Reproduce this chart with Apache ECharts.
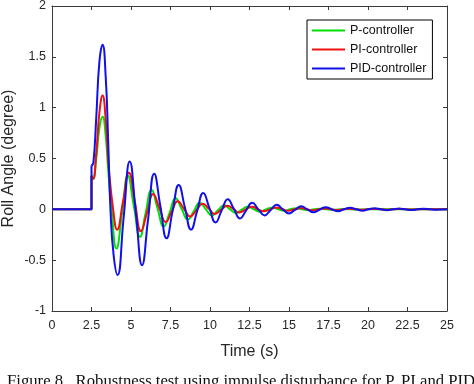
<!DOCTYPE html>
<html>
<head>
<meta charset="utf-8">
<script src="https://cdn.jsdelivr.net/npm/echarts@6/dist/echarts.min.js"></script>
<style>
html,body{margin:0;padding:0;background:#fff;}
#chart{width:474px;height:384px;}
</style>
</head>
<body>
<div id="chart"></div>
<script>
// Tick settings
var xTicks = [0, 2.5, 5, 7.5, 10, 12.5, 15, 17.5, 20, 22.5, 25];
var yTicks = [-1, -0.5, 0, 0.5, 1, 1.5, 2];
var seriesNames = ['P-controller', 'PI-controller', 'PID-controller'];

// P-controller (green)
var pTime = [0, 2.5, 2.5, 2.6, 2.8, 3.0, 3.2, 3.4, 3.55, 3.77, 4.08, 4.44, 4.8, 5.18, 5.57, 5.92, 6.3, 6.68, 7.07, 7.45, 7.82, 8.2, 8.6, 8.98, 9.35, 9.73, 10.12, 10.5, 10.9, 11.27, 11.65, 12.03, 12.4, 12.78, 13.17, 13.55, 13.95, 14.32, 14.7, 15.08, 15.45, 15.83, 16.2, 16.6, 17.0, 17.38, 17.75, 18.5, 19.3, 20.1, 21.0, 25];
var pAngle = [0, 0, 0.33, 0.3, 0.5, 0.8, 0.91, 0.72, 0.4, 0.0, -0.385, -0.03, 0.33, 0.03, -0.27, -0.04, 0.19, 0.01, -0.17, -0.03, 0.11, 0.005, -0.1, -0.017, 0.065, 0.002, -0.06, -0.01, 0.04, 0, -0.037, 0, 0.025, 0, -0.023, 0, 0.016, 0, -0.014, 0, 0.01, 0, -0.009, 0, 0.006, 0, -0.005, 0.003, -0.002, 0.001, 0, 0];

// PI-controller (red)
var piTime = [0, 2.5, 2.5, 2.6, 2.8, 3.0, 3.2, 3.4, 3.6, 3.87, 4.12, 4.5, 4.87, 5.25, 5.63, 6.02, 6.4, 6.8, 7.2, 7.58, 7.96, 8.35, 8.75, 9.15, 9.55, 9.93, 10.3, 10.7, 11.1, 11.48, 11.85, 12.25, 12.65, 13.03, 13.4, 13.8, 14.2, 14.58, 14.95, 15.35, 15.75, 16.13, 16.5, 16.9, 17.3, 17.68, 18.05, 18.45, 18.85, 19.23, 19.6, 20.0, 20.4, 21.2, 22.0, 22.8, 23.6, 25];
var piAngle = [0, 0, 0.33, 0.3, 0.55, 0.95, 1.12, 0.88, 0.4, 0.0, -0.2, 0.08, 0.36, 0.07, -0.215, -0.03, 0.15, 0.01, -0.125, -0.02, 0.08, 0.005, -0.07, -0.005, 0.055, 0.005, -0.045, -0.005, 0.035, 0.003, -0.03, -0.002, 0.025, 0, -0.02, 0, 0.018, 0, -0.015, 0, 0.012, 0, -0.01, 0, 0.009, 0, -0.007, 0, 0.006, 0, -0.005, 0, 0.004, -0.003, 0.003, -0.002, 0.002, 0];

// PID-controller (blue)
var pidTime = [0, 2.5, 2.5, 2.62, 2.8, 3.0, 3.2, 3.4, 3.55, 3.7, 3.9, 4.15, 4.53, 4.92, 5.31, 5.7, 6.08, 6.47, 6.86, 7.25, 7.63, 8.02, 8.41, 8.8, 9.18, 9.57, 9.96, 10.35, 10.73, 11.12, 11.51, 11.9, 12.28, 12.67, 13.06, 13.45, 13.83, 14.22, 14.61, 15.0, 15.38, 15.77, 16.16, 16.55, 16.93, 17.32, 17.71, 18.1, 18.48, 18.87, 19.26, 19.65, 20.03, 20.42, 20.81, 21.2, 21.58, 21.97, 22.36, 22.75, 23.13, 23.52, 23.91, 24.3, 25];
var pidAngle = [0, 0, 0.43, 0.46, 0.9, 1.45, 1.62, 1.3, 0.7, 0.0, -0.45, -0.645, -0.09, 0.47, -0.04, -0.55, -0.1, 0.35, 0.03, -0.285, -0.02, 0.24, 0.02, -0.2, -0.02, 0.16, 0.015, -0.13, -0.015, 0.1, 0.005, -0.09, -0.012, 0.065, 0, -0.06, -0.008, 0.045, 0, -0.04, -0.005, 0.03, 0, -0.028, -0.004, 0.02, 0, -0.02, 0, 0.015, 0, -0.013, 0, 0.01, 0, -0.009, 0, 0.007, 0, -0.006, 0, 0.005, 0, -0.004, 0];

var captionText = 'Figure 8.\u00a0\u00a0Robustness test using impulse disturbance for P, PI and PID';

function pairs(t, v) {
  var out = [];
  var n = Math.min(t.length, v.length);
  for (var i = 0; i < n; i++) out.push([t[i], v[i]]);
  return out;
}
// index of the impulse jump (first repeated time)
function jumpIndex(t) {
  for (var i = 1; i < t.length; i++) if (t[i] === t[i - 1]) return i;
  return 0;
}

var axisColor = '#3a3a3a';
var labelColor = '#262626';
var fontFam = '"Liberation Sans", Arial, Helvetica, sans-serif';

function mkX(pos, showLabel, name) {
  return {
    type: 'value', position: pos, min: xTicks[0], max: xTicks[xTicks.length - 1],
    interval: xTicks[1] - xTicks[0],
    name: name || '', nameLocation: 'middle', nameGap: 33, nameMoveOverlap: false,
    nameTextStyle: { color: labelColor, fontSize: 16, fontFamily: fontFam },
    axisLine: { show: true, onZero: false, lineStyle: { color: axisColor, width: 1 } },
    axisTick: { show: true, inside: true, length: 4, lineStyle: { color: axisColor } },
    axisLabel: { show: showLabel, color: labelColor, fontSize: 12.5, fontFamily: fontFam, margin: 8 },
    splitLine: { show: false }
  };
}
function mkY(pos, showLabel, name) {
  return {
    type: 'value', position: pos, min: yTicks[0], max: yTicks[yTicks.length - 1],
    interval: yTicks[1] - yTicks[0],
    name: name || '', nameLocation: 'middle', nameGap: 35, nameRotate: 90, nameMoveOverlap: false,
    nameTextStyle: { color: labelColor, fontSize: 16, fontFamily: fontFam },
    axisLine: { show: true, onZero: false, lineStyle: { color: axisColor, width: 1 } },
    axisTick: { show: true, inside: true, length: 4, lineStyle: { color: axisColor } },
    axisLabel: { show: showLabel, color: labelColor, fontSize: 12.5, fontFamily: fontFam, margin: 6 },
    splitLine: { show: false }
  };
}

var colors = ['#00e000', '#f01010', '#1010e8'];
var timeArrs = [pTime, piTime, pidTime];
var angleArrs = [pAngle, piAngle, pidAngle];

var series = [];
timeArrs.forEach(function (t, i) {
  var d = pairs(t, angleArrs[i]);
  var j = jumpIndex(t);
  // flat part + vertical impulse step (straight)
  series.push({
    name: seriesNames[i], type: 'line', data: d.slice(0, j + 1), xAxisIndex: 0, yAxisIndex: 0,
    showSymbol: false, symbol: 'none', smooth: false,
    lineStyle: { color: colors[i], width: 2 }, itemStyle: { color: colors[i] }, z: 2 + i
  });
  // oscillating response (smooth)
  series.push({
    name: seriesNames[i], type: 'line', data: d.slice(j), xAxisIndex: 0, yAxisIndex: 0,
    showSymbol: false, symbol: 'none', smooth: 0.5,
    lineStyle: { color: colors[i], width: 2 }, itemStyle: { color: colors[i] }, z: 2 + i
  });
});

var chart = echarts.init(document.getElementById('chart'), null, { renderer: 'canvas' });
chart.setOption({
  animation: false,
  backgroundColor: '#ffffff',
  grid: { left: 52, right: 27, top: 6, bottom: 73, containLabel: false, outerBoundsMode: 'none' },
  xAxis: [mkX('bottom', true, 'Time (s)'), mkX('top', false)],
  yAxis: [mkY('left', true, 'Roll Angle (degree)'), mkY('right', false)],
  legend: {
    data: seriesNames, orient: 'vertical', left: 307, top: 20,
    backgroundColor: '#fff', borderColor: '#000', borderWidth: 1,
    padding: [4, 6, 4, 5], itemGap: 6, itemWidth: 33, itemHeight: 2, icon: 'rect',
    textStyle: { color: '#111', fontSize: 12.5, fontFamily: fontFam }
  },
  graphic: [{
    type: 'text', left: 7, top: 373.5,
    style: { text: captionText, fill: '#111', font: '16.7px "Liberation Serif", "Times New Roman", serif' }
  }],
  series: series
});
</script>
</body>
</html>
